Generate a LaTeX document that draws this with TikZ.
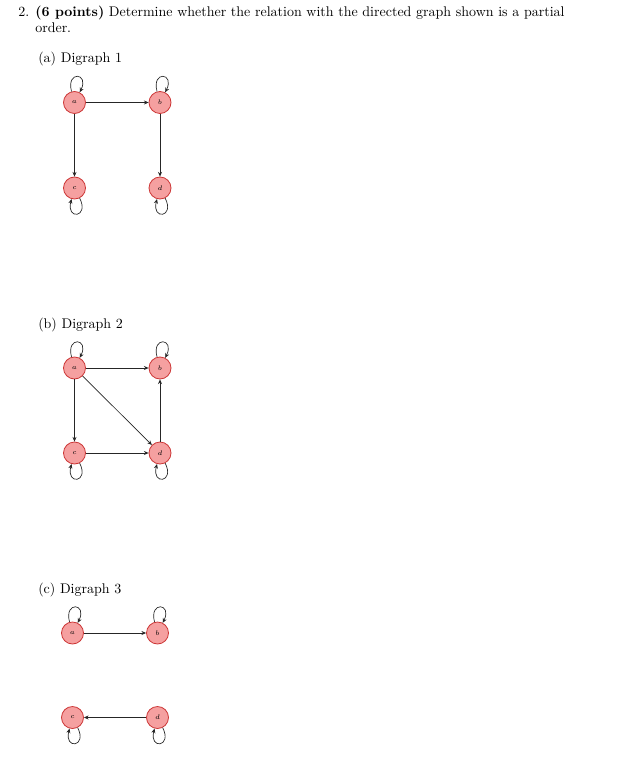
\documentclass[tikz,border=0pt]{standalone}
\usetikzlibrary{arrows.meta}
\definecolor{nodefill}{RGB}{245,160,160}
\definecolor{nodedraw}{RGB}{205,55,55}
\begin{document}
\begin{tikzpicture}[x=0.75pt,y=0.75pt,
  vtx/.style={circle,draw=nodedraw,fill=nodefill,line width=0.6pt,minimum size=16.5pt,inner sep=0pt,font=\tiny},
  edge/.style={-{Stealth[length=3.5pt,width=3pt]},line width=0.5pt,black!85},
  lpa/.style={out=105,in=63,looseness=1,min distance=16.5pt},
  lpb/.style={out=297,in=255,looseness=1,min distance=16.5pt},
  txt/.style={anchor=base west,inner sep=0pt,font=\fontsize{10.5}{12}\selectfont}]
\useasboundingbox[fill=white] (0,0) rectangle (637,-759);
\node[txt] (t1) at (18,-17) {2. \textbf{(6 points)} Determine whether the relation with the directed graph shown is a partial};
\node[txt] (t2) at (35,-33) {order.};
% Digraph 1
\node[txt] (la) at (38,-63) {(a) Digraph 1};
\node[vtx] (a1) at (74.5,-102.5) {$a$};
\node[vtx] (b1) at (160,-102.5) {$b$};
\node[vtx] (c1) at (74.5,-188) {$c$};
\node[vtx] (d1) at (160,-188) {$d$};
\draw[edge] (a1) -- (b1);
\draw[edge] (a1) -- (c1);
\draw[edge] (b1) -- (d1);
\draw[edge] (a1) to[lpa] (a1);
\draw[edge] (b1) to[lpa] (b1);
\draw[edge] (c1) to[lpb] (c1);
\draw[edge] (d1) to[lpb] (d1);
% Digraph 2
\node[txt] (lb) at (38,-328) {(b) Digraph 2};
\node[vtx] (a2) at (74.5,-368) {$a$};
\node[vtx] (b2) at (160,-368) {$b$};
\node[vtx] (c2) at (74.5,-453) {$c$};
\node[vtx] (d2) at (160,-453) {$d$};
\draw[edge] (a2) -- (b2);
\draw[edge] (a2) -- (c2);
\draw[edge] (a2) -- (d2);
\draw[edge] (c2) -- (d2);
\draw[edge] (d2) -- (b2);
\draw[edge] (a2) to[lpa] (a2);
\draw[edge] (b2) to[lpa] (b2);
\draw[edge] (c2) to[lpb] (c2);
\draw[edge] (d2) to[lpb] (d2);
% Digraph 3
\node[txt] (lc) at (38,-593.5) {(c) Digraph 3};
\node[vtx] (a3) at (72.5,-633) {$a$};
\node[vtx] (b3) at (157.5,-633) {$b$};
\node[vtx] (c3) at (72.5,-717.5) {$c$};
\node[vtx] (d3) at (157.5,-717.5) {$d$};
\draw[edge] (a3) -- (b3);
\draw[edge] (d3) -- (c3);
\draw[edge] (a3) to[lpa] (a3);
\draw[edge] (b3) to[lpa] (b3);
\draw[edge] (c3) to[lpb] (c3);
\draw[edge] (d3) to[lpb] (d3);
\end{tikzpicture}
\end{document}
